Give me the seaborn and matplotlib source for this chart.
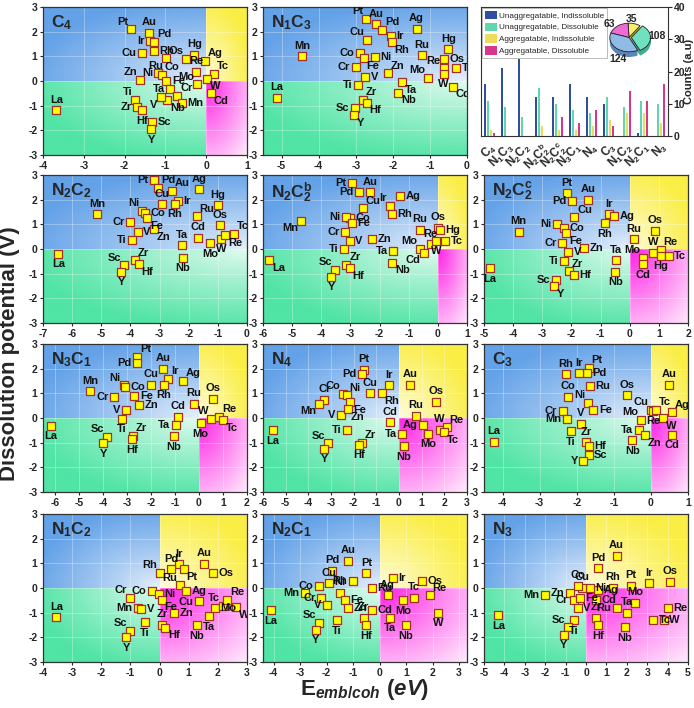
import numpy as np
import pandas as pd
import matplotlib
matplotlib.use('Agg')
import matplotlib.pyplot as plt
import seaborn as sns

# ---------------- data ----------------
c4_el = ['Pt', 'Au', 'Ir', 'Pd', 'Rh', 'Cu', 'Ru', 'Os', 'Hg', 'Ag', 'Re', 'Tc', 'W', 'Mo', 'Cd',
         'Zn', 'Ni', 'Co', 'Fe', 'Ta', 'Cr', 'Mn', 'Nb', 'V', 'Ti', 'Zr', 'Hf', 'Sc', 'Y', 'La']
c4_x = [-1.85, -1.39, -1.37, -1.27, -1.28, -1.57, -0.98, -0.49, -0.29, -0.04, -0.24, 0.20, 0.02, -0.22, 0.12,
        -1.63, -1.17, -1.09, -0.98, -0.88, -0.71, -0.60, -0.96, -1.12, -1.74, -1.69, -1.58, -1.33, -1.35, -3.67]
c4_y = [2.09, 1.95, 1.61, 1.57, 1.23, 1.12, 0.93, 0.89, 1.06, 0.82, 0.37, 0.30, 0.10, -0.14, -0.48,
        0.04, 0.31, 0.25, 0.00, -0.31, -0.59, -0.91, -0.79, -0.64, -0.78, -1.05, -1.19, -1.66, -1.95, -1.19]
c4_pos = ['nw', 'n', 'w', 'ne', 'e', 'w', 'sw', 'nw', 'n', 'ne', 'n', 'ne', 'se', 'nw', 'se',
          'nw', 'w', 'ne', 'e', 'w', 'ne', 'e', 'se', 'sw', 'nw', 'w', 's', 'e', 's', 'n']

n1c3_el = ['Pt', 'Au', 'Pd', 'Ag', 'Cu', 'Ir', 'Rh', 'Mn', 'Co', 'Ni', 'Fe', 'Ru', 'Hg', 'Os', 'Tc',
           'Re', 'W', 'Mo', 'Zn', 'Ta', 'Nb', 'Cd', 'Cr', 'V', 'Ti', 'Zr', 'Hf', 'Sc', 'Y', 'La']
n1c3_x = [-2.72, -2.46, -2.29, -1.36, -2.70, -2.05, -2.03, -4.45, -2.88, -2.49, -2.79, -1.21, -0.50, -0.61, -0.29,
          -0.63, -0.63, -1.04, -2.14, -1.74, -1.86, -0.39, -3.00, -2.74, -2.95, -2.81, -2.70, -3.02, -3.04, -5.12]
n1c3_y = [2.53, 2.30, 2.07, 2.12, 1.66, 1.84, 1.59, 1.01, 1.15, 0.97, 0.92, 1.04, 1.28, 0.90, 0.54,
          0.51, 0.30, 0.14, 0.31, -0.04, -0.47, -0.23, 0.58, 0.18, -0.18, -0.76, -0.88, -1.08, -1.38, -0.68]
n1c3_pos = ['nw', 'n', 'ne', 'n', 'nw', 'e', 'se', 'n', 'w', 'e', 'se', 'n', 'n', 'e', 'e',
            'nw', 's', 'nw', 'ne', 'se', 'se', 'se', 'w', 'e', 'w', 'ne', 'se', 'w', 'se', 'n']

n2c2_el = ['Pt', 'Pd', 'Au', 'Ag', 'Cu', 'Ir', 'Rh', 'Hg', 'Mn', 'Ni', 'Co', 'Fe', 'Cr', 'Ru', 'Os',
           'Zn', 'V', 'Ti', 'Cd', 'Ta', 'Mo', 'W', 'Re', 'Tc', 'Nb', 'La', 'Sc', 'Zr', 'Hf', 'Y']
n2c2_x = [-3.19, -3.04, -2.57, -1.64, -2.92, -2.38, -2.47, -0.99, -5.15, -3.61, -3.49, -3.43, -4.00, -1.72, -0.94,
          -3.19, -3.75, -3.93, -1.69, -2.24, -1.27, -0.89, -0.74, -0.45, -2.20, -6.47, -4.22, -3.85, -3.71, -4.31]
n2c2_y = [2.78, 2.47, 2.35, 2.42, 1.81, 1.95, 1.84, 1.78, 1.41, 1.54, 1.46, 1.26, 1.09, 1.32, 0.96,
          0.82, 0.69, 0.35, 0.45, 0.15, 0.24, 0.41, 0.55, 0.62, -0.36, -0.20, -0.66, -0.46, -0.62, -0.93]
n2c2_pos = ['w', 'ne', 'ne', 'n', 'n', 'e', 's', 'n', 'n', 'nw', 'e', 'se', 'w', 'ne', 'n',
            'se', 'e', 'w', 'n', 'n', 's', 's', 'se', 'ne', 's', 's', 'nw', 'ne', 'se', 's']

n2c2b_el = ['Pt', 'Pd', 'Au', 'Ag', 'Cu', 'Ir', 'Rh', 'Co', 'Ni', 'Fe', 'Mn', 'Cr', 'V', 'Zn', 'Ti',
            'Ta', 'Nb', 'Ru', 'Os', 'Hg', 'Re', 'W', 'Mo', 'Cd', 'Tc', 'La', 'Sc', 'Zr', 'Hf', 'Y']
n2c2b_x = [-2.94, -2.69, -2.33, -1.31, -2.57, -1.65, -1.59, -3.03, -3.14, -2.96, -4.69, -3.18, -3.03, -2.25, -3.23,
           -1.53, -1.57, -0.61, 0.00, 0.07, -0.25, -0.06, -0.61, -0.49, 0.24, -5.79, -3.54, -3.14, -3.03, -3.65]
n2c2b_y = [2.66, 2.30, 2.30, 2.15, 1.65, 1.74, 1.42, 1.27, 1.31, 1.07, 1.15, 0.70, 0.34, 0.39, 0.00,
           -0.07, -0.55, 0.77, 0.85, 0.78, 0.20, 0.34, 0.00, -0.15, 0.32, -0.45, -0.85, -0.65, -0.76, -1.12]
n2c2b_pos = ['w', 'w', 'n', 'e', 'ne', 'nw', 'e', 'e', 'w', 'e', 'sw', 'w', 'e', 'e', 'w',
             'w', 'se', 'n', 'n', 'e', 'n', 's', 'nw', 'sw', 'e', 'se', 'nw', 'ne', 'se', 's']

n2c2c_el = ['Pt', 'Pd', 'Au', 'Cu', 'Ir', 'Ag', 'Rh', 'Mn', 'Ni', 'Co', 'Fe', 'Cr', 'V', 'Zn', 'Ru',
            'Os', 'Ta', 'Nb', 'Mo', 'Cd', 'W', 'Re', 'Hg', 'Tc', 'Ti', 'Zr', 'Hf', 'Sc', 'Y', 'La']
n2c2c_x = [-2.15, -1.99, -1.44, -1.90, -0.72, -0.53, -0.86, -3.81, -2.49, -2.27, -2.17, -2.32, -2.11, -1.57, 0.14,
           0.87, -0.47, -0.49, 0.46, 0.45, 0.80, 1.06, 1.06, 1.34, -2.27, -2.09, -1.92, -2.54, -2.59, -4.80]
n2c2c_y = [2.26, 1.93, 1.99, 1.28, 1.41, 1.32, 1.04, 0.70, 1.01, 0.85, 0.64, 0.26, -0.11, 0.03, 0.39,
           0.73, -0.45, -0.93, -0.35, -0.62, -0.15, -0.04, -0.27, -0.27, -0.47, -0.91, -1.05, -1.24, -1.51, -0.78]
n2c2c_pos = ['n', 'w', 'n', 'ne', 'n', 'e', 's', 'n', 'w', 'e', 'se', 'w', 'e', 'e', 'n',
             'n', 'n', 's', 'nw', 's', 'n', 'ne', 's', 'e', 'w', 'ne', 'e', 'w', 'se', 's']

n3c1_el = ['Pt', 'Pd', 'Au', 'Ir', 'Ag', 'Cu', 'Rh', 'Mn', 'Ni', 'Co', 'Fe', 'Cr', 'V', 'Zn', 'Ti',
           'Ru', 'Os', 'Cd', 'Ta', 'Nb', 'Mo', 'W', 'Re', 'Tc', 'La', 'Sc', 'Y', 'Zr', 'Hf']
n3c1_x = [-2.57, -2.57, -1.51, -1.28, -0.68, -2.00, -1.46, -4.54, -3.14, -3.10, -2.69, -3.54, -3.06, -2.50, -3.21,
          -0.22, 0.58, -0.88, -0.96, -1.06, 0.07, 0.51, 0.85, 1.01, -6.17, -3.85, -3.99, -2.76, -2.78]
n3c1_y = [2.47, 2.23, 2.00, 1.59, 1.49, 1.35, 1.35, 1.08, 1.32, 1.26, 0.91, 0.85, 0.34, 0.51, -0.03,
          0.58, 0.77, 0.05, -0.27, -0.74, -0.22, -0.05, 0.03, -0.09, -0.31, -0.78, -1.03, -0.74, -0.85]
n3c1_pos = ['ne', 'w', 'n', 'ne', 'ne', 'n', 's', 'n', 'nw', 'e', 'e', 'w', 'w', 'e', 's',
            'n', 'n', 'n', 'w', 's', 's', 'nw', 'ne', 'se', 's', 'nw', 's', 'ne', 's']

n4_el = ['Pt', 'Pd', 'Ir', 'Au', 'Cu', 'Rh', 'Co', 'Ni', 'Fe', 'Cr', 'Mn', 'V', 'Zn', 'Os', 'Cd',
         'Ta', 'Nb', 'Ru', 'Ag', 'Mo', 'W', 'Re', 'Tc', 'Ti', 'Zr', 'Hf', 'Sc', 'Y', 'La']
n4_x = [-1.55, -1.64, -0.44, 0.50, -1.27, -0.76, -2.49, -2.31, -2.15, -3.29, -3.51, -2.55, -2.25, 1.64, -0.41,
        0.15, 0.20, 0.73, 1.08, 1.29, 1.79, 2.11, 1.99, -2.31, -1.64, -1.76, -3.12, -3.29, -5.56]
n4_y = [1.96, 1.78, 1.32, 1.35, 1.01, 1.01, 0.97, 0.92, 0.65, 0.74, 0.58, 0.11, 0.36, 0.65, -0.18,
        -0.65, -1.15, 0.09, -0.28, -0.64, -0.47, -0.38, -0.58, -0.47, -1.01, -1.09, -1.03, -1.24, -0.50]
n4_pos = ['n', 'w', 'n', 'n', 'n', 'se', 'nw', 'ne', 'se', 'n', 'sw', 'w', 'se', 'n', 'n',
          'w', 's', 'n', 'w', 's', 'n', 'ne', 'se', 'w', 'ne', 's', 'nw', 's', 's']

c3_el = ['Pt', 'Pd', 'Ir', 'Rh', 'Ru', 'Co', 'Ni', 'Fe', 'Cr', 'V', 'Mn', 'Ti', 'Zr', 'Hf', 'Sc',
         'Y', 'La', 'Os', 'Mo', 'Ta', 'Zn', 'Nb', 'Cu', 'Re', 'Tc', 'W', 'Ag', 'Au', 'Cd']
c3_x = [-1.68, -1.73, -1.94, -2.29, -1.65, -2.24, -1.70, -1.55, -2.38, -1.89, -2.27, -2.15, -1.75, -1.68, -1.68,
        -1.82, -4.24, -0.65, -0.27, -0.33, -0.17, -0.50, 0.00, 0.06, 0.13, 0.33, 0.57, 0.49, 0.57]
c3_y = [2.04, 1.81, 1.81, 1.77, 1.28, 0.85, 0.61, 0.34, 0.28, -0.23, -0.04, -0.54, -0.99, -1.12, -1.51,
        -1.76, -0.96, 0.93, -0.09, -0.47, -0.68, -0.91, 0.34, 0.30, 0.34, -0.01, 0.23, 1.35, -0.68]
c3_pos = ['ne', 'e', 'n', 'n', 'e', 'n', 'nw', 'e', 'w', 'n', 'w', 's', 'n', 'e', 'e',
          'w', 'n', 'n', 'nw', 'w', 'se', 's', 'nw', 's', 'ne', 'se', 'ne', 'n', 's']

n1c2_el = ['Au', 'Ir', 'Pd', 'Pt', 'Rh', 'Os', 'Ru', 'Co', 'Ni', 'Cu', 'Ag', 'Fe', 'Cr', 'Mn', 'V',
           'Ti', 'Sc', 'Y', 'La', 'Zr', 'Hf', 'Zn', 'Nb', 'Ta', 'Mo', 'Tc', 'Re', 'W']
n1c2_x = [1.53, 0.66, 0.39, 0.83, 0.02, 1.83, 0.69, -0.26, -0.03, 0.91, 1.36, 0.08, -1.03, -0.75, -0.63,
          -0.51, -1.03, -1.14, -3.54, 0.10, 0.19, 0.50, 1.28, 1.68, 1.89, 2.17, 2.33, 2.62]
n1c2_y = [0.99, 0.96, 0.76, 0.76, 0.61, 0.62, 0.11, -0.14, -0.24, -0.14, -0.53, -0.47, -0.39, -0.81, -0.87,
          -1.38, -1.75, -1.99, -1.19, -1.48, -1.61, -1.02, -1.52, -1.15, -0.81, -0.71, -0.47, -0.77]
n1c2_pos = ['n', 'n', 'n', 'se', 'nw', 'e', 'nw', 'w', 'e', 's', 'n', 'se', 'nw', 'w', 'e',
            's', 'nw', 's', 'n', 'n', 'se', 'e', 's', 's', 'e', 'nw', 'ne', 'se']

n2c1_el = ['Au', 'Pd', 'Pt', 'Ir', 'Os', 'Rh', 'Cu', 'Co', 'Ru', 'Mn', 'La', 'Cr', 'V', 'Ni', 'Fe',
           'Zn', 'Cd', 'Ag', 'Mo', 'Tc', 'Re', 'W', 'Ta', 'Nb', 'Zr', 'Hf', 'Ti', 'Sc', 'Y']
n2c1_x = [-1.2, -1.8, -0.5, 0.5, 1.6, -1.0, -1.9, -2.3, -0.3, -2.8, -4.1, -2.2, -2.0, -1.5, -1.3,
          -1.2, -0.3, 0.3, 0.9, 1.3, 1.9, 2.2, 0.4, 1.0, -0.6, -0.5, -1.6, -2.3, -2.4]
n2c1_y = [1.1, 0.7, 0.6, 0.4, 0.3, 0.3, 0.2, 0.1, 0.0, -0.2, -0.9, -0.4, -0.7, -0.2, -0.5,
          -0.8, -0.9, -0.3, -0.5, -0.4, -0.3, -1.0, -1.2, -1.5, -1.2, -1.5, -1.3, -1.4, -1.7]
n2c1_pos = ['n', 'n', 'n', 'e', 'e', 'w', 'n', 'w', 'e', 'w', 's', 'w', 'w', 'n', 'e',
            'e', 'e', 'n', 's', 'n', 'ne', 's', 's', 's', 'n', 's', 's', 'nw', 's']

n3_el = ['Au', 'Pd', 'Pt', 'Ir', 'Os', 'Rh', 'Ru', 'Mo', 'Re', 'Tc', 'W', 'Ta', 'Nb', 'Zr', 'Hf',
         'Cd', 'Ag', 'Ni', 'Cu', 'Co', 'Zn', 'Cr', 'Fe', 'V', 'Ti', 'Sc', 'Y', 'Mn', 'La']
n3_x = [1.5, 0.6, 2.2, 3.1, 4.1, 1.3, 1.5, 2.4, 4.0, 3.3, 3.8, 2.0, 1.9, 0.5, 0.6,
        0.5, 0.6, 0.2, -0.2, -0.4, -0.8, -0.6, -0.3, -0.4, -0.6, -0.9, -1.1, -2.0, -4.3]
n3_y = [1.3, 0.8, 0.1, 0.2, 0.25, 0.0, -0.8, -0.6, -0.8, -1.3, -1.3, -1.0, -1.6, -1.2, -1.5,
        -0.5, -0.1, 0.0, 0.0, 0.1, -0.2, -0.5, -0.4, -0.8, -1.3, -1.6, -1.9, -0.3, -1.1]
n3_pos = ['n', 'n', 'n', 'n', 'n', 'n', 'w', 'n', 'e', 'e', 'e', 'n', 's', 'n', 's',
          'e', 'e', 'e', 'n', 'n', 'w', 'w', 'e', 'e', 's', 'nw', 's', 'w', 's']

# bar chart (counts per configuration)
configs = ['C4', 'N1C3', 'N2C2', 'N2C2b', 'N2C2c', 'N3C1', 'N4', 'C3', 'N1C2', 'N2C1', 'N3']
config_tex = [r'$C_4$', r'$N_1C_3$', r'$N_2C_2$', r'$N_2C_2^b$', r'$N_2C_2^c$', r'$N_3C_1$',
              r'$N_4$', r'$C_3$', r'$N_1C_2$', r'$N_2C_1$', r'$N_3$']
kinds = ['Unaggregatable, Indissoluble', 'Unaggregatable, Dissoluble',
         'Aggregatable, Indissoluble', 'Aggregatable, Dissoluble']
unagg_indiss = [16, 21, 24, 12, 12, 16, 12, 10, 0, 1, 0]
unagg_diss = [11, 9, 6, 15, 10, 8, 7, 12, 9, 11, 10]
agg_indiss = [2, 0, 0, 3, 2, 2, 3, 5, 7, 7, 4]
agg_diss = [1, 0, 0, 0, 6, 4, 8, 3, 14, 11, 16]
pie_totals = [124, 108, 35, 63]

# ---------------- style ----------------
sns.set_style('white')
plt.rcParams['font.family'] = ['Liberation Sans', 'DejaVu Sans']
plt.rcParams['font.weight'] = 'bold'
plt.rcParams['axes.unicode_minus'] = False
plt.rcParams['mathtext.fontset'] = 'custom'
plt.rcParams['mathtext.rm'] = 'Liberation Sans:bold'
plt.rcParams['mathtext.bf'] = 'Liberation Sans:bold'
plt.rcParams['mathtext.it'] = 'Liberation Sans:bold:italic'
plt.rcParams['mathtext.default'] = 'bf'

BLUE = np.array([100, 162, 232]) / 255
GREEN = np.array([80, 228, 165]) / 255
YELLOW = np.array([250, 238, 70]) / 255
MAGENTA = np.array([255, 45, 230]) / 255

OFF = {'n': (0, 4, 'center', 'bottom'), 's': (0, -4, 'center', 'top'),
       'e': (4, 0, 'left', 'center'), 'w': (-4, 0, 'right', 'center'),
       'ne': (2, 2, 'left', 'bottom'), 'nw': (-2, 2, 'right', 'bottom'),
       'se': (2, -2, 'left', 'top'), 'sw': (-2, -2, 'right', 'top')}


def shade(ax, x0, x1, y0, y1, color, fade_out=False):
    n = 80
    xs = np.linspace(x0, x1, n)
    ys = np.linspace(y0, y1, n)
    X, Y = np.meshgrid(xs, ys)
    fx = x0 if abs(x0) > abs(x1) else x1
    fy = y0 if abs(y0) > abs(y1) else y1
    u = np.abs(X) / abs(fx)
    v = np.abs(Y) / abs(fy)
    d = np.sqrt(u ** 2 + v ** 2) / np.sqrt(2)
    if fade_out:
        s = np.clip(1.05 - 0.95 * d, 0, 1)
    else:
        s = np.clip(0.1 + 1.15 * d, 0, 1) ** 0.8
    img = 1 - s[..., None] * (1 - color[None, None, :])
    ax.imshow(img, extent=(x0, x1, y0, y1), origin='lower', aspect='auto',
              interpolation='bilinear', zorder=0)


def panel(ax, title, el, xs, ys, pos, xlim):
    x0, x1 = xlim
    shade(ax, x0, 0, 0, 3, BLUE)
    shade(ax, x0, 0, -3, 0, GREEN)
    shade(ax, 0, x1, 0, 3, YELLOW)
    shade(ax, 0, x1, -3, 0, MAGENTA, fade_out=True)
    df = pd.DataFrame({'x': xs, 'y': ys})
    sns.scatterplot(data=df, x='x', y='y', marker='s', s=26, color='#ffff00',
                    edgecolor='#a03028', linewidth=0.9, ax=ax, zorder=3, legend=False)
    for e, x, y, p in zip(el, xs, ys, pos):
        dx, dy, ha, va = OFF[p]
        ax.annotate(e, (x, y), xytext=(dx, dy), textcoords='offset points',
                    ha=ha, va=va, fontsize=8, fontweight='bold', color='#111111',
                    zorder=4, annotation_clip=True, clip_on=True)
    ax.set_xlim(x0, x1)
    ax.set_ylim(-3, 3)
    ax.set_xticks(np.arange(np.ceil(x0), np.floor(x1) + 1))
    ax.set_yticks([-3, -2, -1, 0, 1, 2, 3])
    ax.xaxis.set_major_formatter(matplotlib.ticker.FormatStrFormatter('%d'))
    ax.grid(True, color='white', alpha=0.35, lw=0.6)
    ax.set_xlabel('')
    ax.set_ylabel('')
    ax.tick_params(labelsize=7.5, length=2.5, width=0.8, pad=1.5, direction='out',
                   bottom=True, left=True)
    for lab in ax.get_xticklabels() + ax.get_yticklabels():
        lab.set_fontweight('bold')
    for sp in ax.spines.values():
        sp.set_color('#333333')
        sp.set_linewidth(0.9)
    ax.text(0.04, 0.96, title, transform=ax.transAxes, ha='left', va='top',
            fontsize=12.5, zorder=5)


W, H = 694, 708
fig = plt.figure(figsize=(W / 100, H / 100), dpi=100)


def px_axes(left, top, width, height):
    return fig.add_axes([left / W, (H - top - height) / H, width / W, height / H])


cols = [43, 263, 484]
rows = [7, 175, 344, 514]
pw, ph = 204, 148

panels = [
    (0, 0, r'$C_4$', c4_el, c4_x, c4_y, c4_pos, (-4, 1)),
    (0, 1, r'$N_1C_3$', n1c3_el, n1c3_x, n1c3_y, n1c3_pos, (-5.5, 0)),
    (1, 0, r'$N_2C_2$', n2c2_el, n2c2_x, n2c2_y, n2c2_pos, (-7, 0)),
    (1, 1, r'$N_2C_2^b$', n2c2b_el, n2c2b_x, n2c2b_y, n2c2b_pos, (-6, 1)),
    (1, 2, r'$N_2C_2^c$', n2c2c_el, n2c2c_x, n2c2c_y, n2c2c_pos, (-5, 2)),
    (2, 0, r'$N_3C_1$', n3c1_el, n3c1_x, n3c1_y, n3c1_pos, (-6.5, 2)),
    (2, 1, r'$N_4$', n4_el, n4_x, n4_y, n4_pos, (-6, 3)),
    (2, 2, r'$C_3$', c3_el, c3_x, c3_y, c3_pos, (-4.5, 1)),
    (3, 0, r'$N_1C_2$', n1c2_el, n1c2_x, n1c2_y, n1c2_pos, (-4, 3)),
    (3, 1, r'$N_2C_1$', n2c1_el, n2c1_x, n2c1_y, n2c1_pos, (-4.4, 3.3)),
    (3, 2, r'$N_3$', n3_el, n3_x, n3_y, n3_pos, (-5, 5)),
]
for r, c, title, el, xs, ys, pos, xlim in panels:
    ax = px_axes(cols[c], rows[r], pw, ph)
    panel(ax, title, el, xs, ys, pos, xlim)

# ---------------- bar chart ----------------
bar_colors = ['#2f4f9f', '#5fd6b0', '#ecdc5c', '#d8358c']
long = pd.DataFrame({
    'config': configs * 4,
    'kind': sum([[k] * len(configs) for k in kinds], []),
    'count': unagg_indiss + unagg_diss + agg_indiss + agg_diss,
})
axb = px_axes(481, 7, 187, 129)
sns.barplot(data=long, x='config', y='count', hue='kind', hue_order=kinds,
            palette=bar_colors, ax=axb, width=0.72, gap=0.25, saturation=1,
            linewidth=0, edgecolor='none')
axb.set_ylim(0, 40)
axb.set_yticks([0, 10, 20, 30, 40])
axb.yaxis.tick_right()
axb.yaxis.set_label_position('right')
axb.set_ylabel('Counts (a.u)', fontsize=8, fontweight='bold')
axb.yaxis.set_label_coords(1.085, 0.5)
axb.set_xlabel('')
axb.set_xticks(range(len(configs)))
axb.set_xticklabels(config_tex, rotation=45, ha='right', rotation_mode='anchor', fontsize=8.5)
axb.tick_params(axis='y', labelsize=7.5, length=3, direction='out', right=True, pad=1)
axb.tick_params(axis='x', length=0, pad=3)
for lab in axb.get_yticklabels():
    lab.set_fontweight('bold')
for sp in axb.spines.values():
    sp.set_color('#333333')
    sp.set_linewidth(0.8)
leg = axb.legend(loc='upper left', fontsize=5.9, frameon=True, handlelength=1.5,
                 handleheight=1.2, borderpad=0.3, labelspacing=0.35, handletextpad=0.3,
                 borderaxespad=0.15, fancybox=False, edgecolor='#888888')
for t in leg.get_texts():
    t.set_fontweight('normal')
leg.get_frame().set_linewidth(0.5)

# pie inset (drawn with a little depth)
axp = px_axes(606, 21, 48, 38)
pie_colors = ['#8fbbe6', '#6fe0c0', '#f6ee6a', '#f06ad6']
dark = ['#5a86b8', '#3fae90', '#c4bb40', '#b8409f']
order = [1, 2, 3, 0]
vals = [pie_totals[i] for i in order]
explode = [0.12, 0, 0, 0]
for k in range(6, 0, -1):
    axp.pie(vals, colors=[dark[i] for i in order], startangle=-63, explode=explode,
            center=(0, -0.06 * k), wedgeprops=dict(edgecolor='none'))
axp.pie(vals, colors=[pie_colors[i] for i in order], startangle=-63, explode=explode,
        wedgeprops=dict(edgecolor='#222222', linewidth=0.6))
axp.set_aspect('auto')
axp.set_xlim(-1.2, 1.3)
axp.set_ylim(-1.5, 1.15)
axp.axis('off')
for txt, (px, py) in zip(['63', '35', '108', '124'], [(609, 24), (632, 19), (657, 36), (618, 59)]):
    fig.text(px / W, 1 - py / H, txt, fontsize=7.5, fontweight='bold', ha='center', va='center')

# axis labels
fig.text(10 / W, 0.5, 'Dissolution potential (V)', rotation=90, ha='center', va='center',
         fontsize=16, fontweight='bold')
fig.text(365 / W, 1 - 690 / H, r'$E_{\mathit{emb/coh}}\ \mathit{(eV)}$', ha='center', va='center',
         fontsize=16)

fig.savefig('out.png', dpi=100)
